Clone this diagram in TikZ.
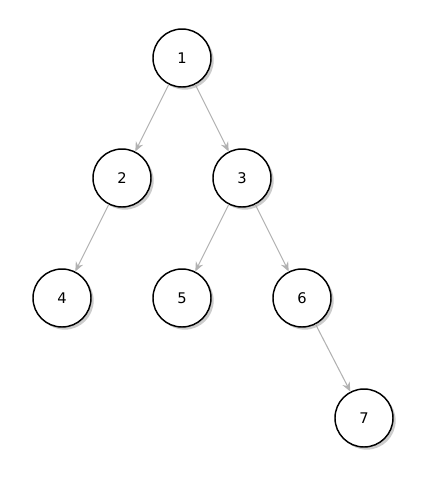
\documentclass[tikz,border=0pt]{standalone}
\usepackage{fontspec}
\setmainfont{DejaVu Sans}
\usetikzlibrary{arrows.meta,shadows}
\begin{document}
\begin{tikzpicture}[x=0.75pt,y=-0.75pt,
  tnode/.style={circle,draw=black,line width=1.1pt,fill=white,minimum size=58*0.75pt,inner sep=0pt,
    font=\fontsize{11pt}{13pt}\selectfont,
    drop shadow={shadow xshift=2pt,shadow yshift=-2pt,opacity=0.4,fill=gray}},
  tedge/.style={draw=black!30,line width=0.8pt,-{Stealth[length=7pt,width=6pt]}}]
\useasboundingbox (0,0) rectangle (432,501);
\node[tnode] (n1) at (182,58) {1};
\node[tnode] (n2) at (122,178) {2};
\node[tnode] (n3) at (242,178) {3};
\node[tnode] (n4) at (62,298) {4};
\node[tnode] (n5) at (182,298) {5};
\node[tnode] (n6) at (302,298) {6};
\node[tnode] (n7) at (364,418) {7};
\draw[tedge] (n1) -- (n2);
\draw[tedge] (n1) -- (n3);
\draw[tedge] (n2) -- (n4);
\draw[tedge] (n3) -- (n5);
\draw[tedge] (n3) -- (n6);
\draw[tedge] (n6) -- (n7);
\end{tikzpicture}
\end{document}
